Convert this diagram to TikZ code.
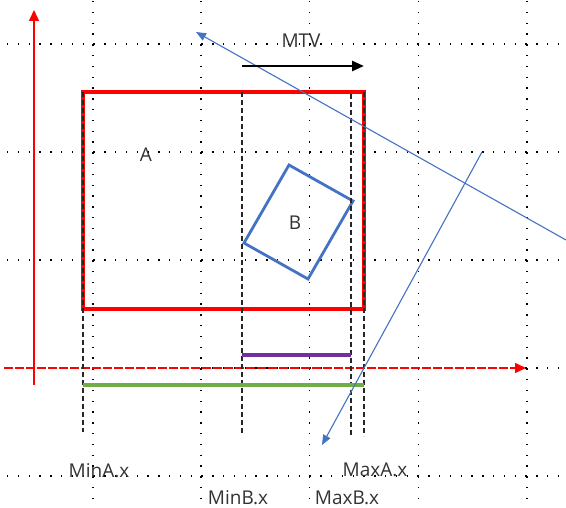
\documentclass[tikz,border=0pt]{standalone}
\usepackage{fontspec}
\setmainfont{Open Sans}
\usetikzlibrary{arrows.meta}
\definecolor{boxblue}{RGB}{68,114,196}
\definecolor{projpurple}{RGB}{112,48,160}
\definecolor{projgreen}{RGB}{112,173,71}
\tikzstyle{gridline} = [black, line width=1.4pt, dash pattern=on 1.4pt off 9.4pt]
\tikzstyle{axis} = [red, line width=1.4pt, -{Triangle[length=11pt,width=10pt]}]
\tikzstyle{guide} = [black!85, line width=1.2pt, dash pattern=on 5pt off 3pt]
\tikzstyle{lbl} = [font=\fontsize{19}{22}\selectfont, text=black!80, inner sep=0pt, anchor=base]
\tikzstyle{normal} = [boxblue, line width=1.1pt, -{Triangle[length=10pt,width=8pt]}]

\begin{document}
\begin{tikzpicture}[x=1pt, y=-1pt]
  \useasboundingbox (0,0) rectangle (566,508);

  % dotted grid
  \foreach \gx in {93,201,309.5,418.5,527} {
    \draw[gridline] (\gx,1) -- (\gx,508);
  }
  \foreach \gy in {44,152,260,368,476} {
    \draw[gridline] (7,\gy) -- (566,\gy);
  }

  % axes
  \coordinate (yaxis0) at (34,385);
  \coordinate (yaxis1) at (34,10);
  \coordinate (xaxis0) at (4,368);
  \coordinate (xaxis1) at (526,368);
  \draw[axis] (yaxis0) -- (yaxis1);
  \draw[axis, dash pattern=on 9pt off 2pt] (xaxis0) -- (xaxis1);

  % box A
  \coordinate (Atl) at (83,92);
  \coordinate (Abr) at (364,309);
  \draw[red, line width=3.4pt] (Atl) rectangle (Abr);
  \node[lbl] (Alabel) at (146,162) {A};

  % box B (rotated)
  \coordinate (Bt) at (289,165);
  \coordinate (Br) at (353,201);
  \coordinate (Bb) at (308,279);
  \coordinate (Bl) at (244,243);
  \draw[boxblue, line width=2.8pt, line join=miter] (Bt) -- (Br) -- (Bb) -- (Bl) -- cycle;
  \node[lbl] (Blabel) at (295,230) {B};

  % projection guides
  \coordinate (minA1) at (83,92);   \coordinate (minA2) at (83,432);
  \coordinate (minB1) at (242,92);  \coordinate (minB2) at (242,434);
  \coordinate (maxB1) at (351,94);  \coordinate (maxB2) at (351,436);
  \coordinate (maxA1) at (364,92);  \coordinate (maxA2) at (364,436);
  \draw[guide] (minA1) -- (minA2);
  \draw[guide] (minB1) -- (minB2);
  \draw[guide] (maxB1) -- (maxB2);
  \draw[guide] (maxA1) -- (maxA2);

  % projected intervals
  \coordinate (projB0) at (242,355);
  \coordinate (projB1) at (351,355);
  \coordinate (projA0) at (83,385);
  \coordinate (projA1) at (364,385);
  \draw[projpurple, line width=3.4pt] (projB0) -- (projB1);
  \draw[projgreen, line width=4.4pt] (projA0) -- (projA1);

  % separating axes
  \coordinate (n1a) at (566,240);
  \coordinate (n1b) at (196,32);
  \coordinate (n2a) at (482,152);
  \coordinate (n2b) at (322,445);
  \draw[normal] (n1a) -- (n1b);
  \draw[normal] (n2a) -- (n2b);

  % MTV
  \coordinate (mtv0) at (242,66);
  \coordinate (mtv1) at (364,66);
  \draw[black, line width=2.6pt, -{Triangle[length=12pt,width=10pt]}] (mtv0) -- (mtv1);
  \node[lbl] (mtvlabel) at (301,48) {MTV};

  % labels
  \node[lbl] (minAx) at (99,478) {MinA.x};
  \node[lbl] (minBx) at (238,504) {MinB.x};
  \node[lbl] (maxAx) at (375,476) {MaxA.x};
  \node[lbl] (maxBx) at (347,504) {MaxB.x};
\end{tikzpicture}
\end{document}
